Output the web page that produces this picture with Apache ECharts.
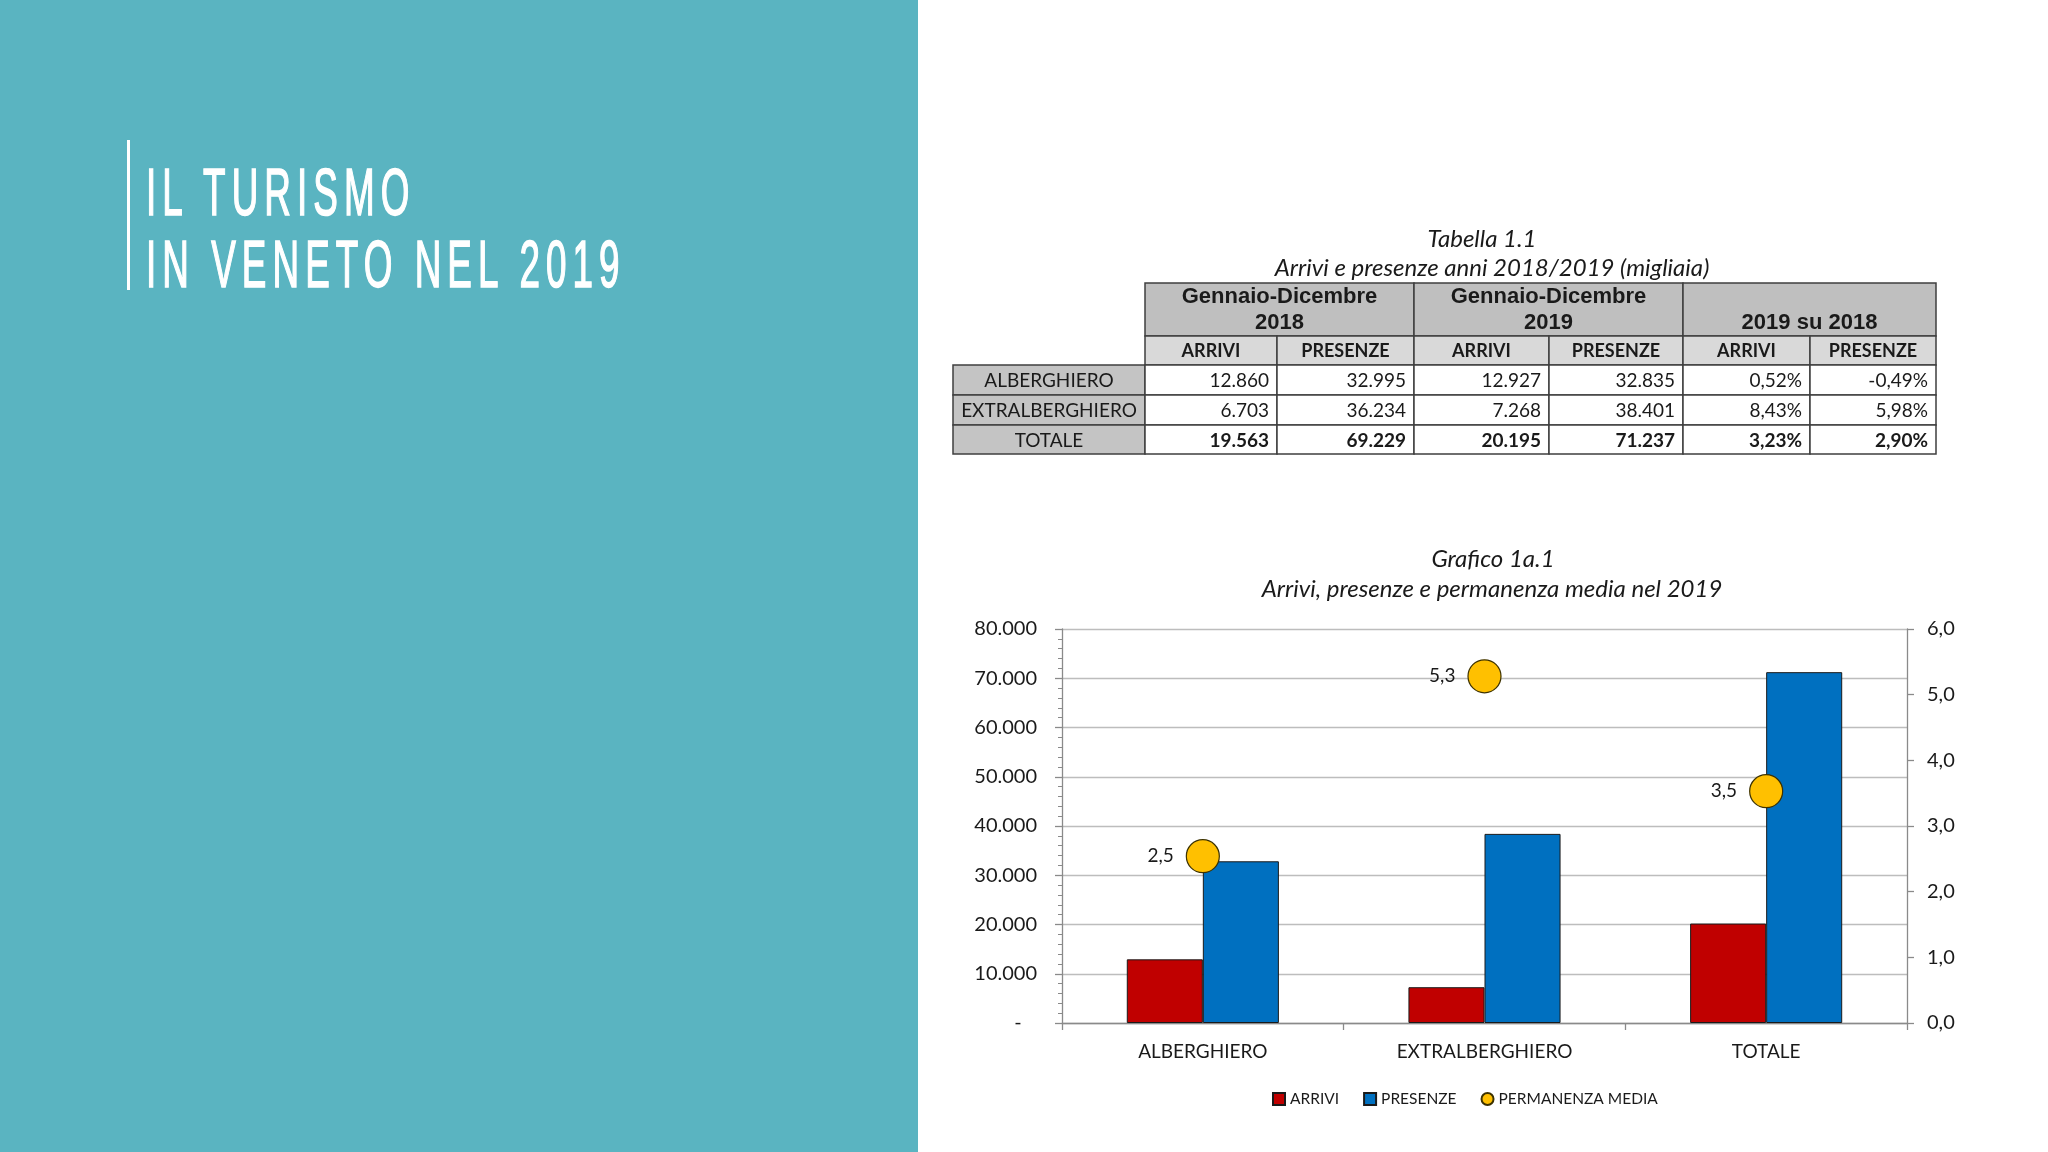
<!DOCTYPE html>
<html><head><meta charset="utf-8">
<script src="https://cdn.jsdelivr.net/npm/echarts@6/dist/echarts.min.js"></script>
<style>
html,body{margin:0;padding:0;background:#fff;}
#chart{position:absolute;left:0;top:0;width:2048px;height:1152px;}
#vbar{position:absolute;left:127px;top:140px;width:3px;height:150px;background:#fff;}
#title{position:absolute;left:146px;top:156px;color:#fff;font-family:'Liberation Sans',Arial,sans-serif;font-size:67px;line-height:72px;letter-spacing:11px;transform:scaleX(0.55);transform-origin:0 0;white-space:nowrap;-webkit-text-stroke:1.6px #fff;}
</style></head>
<body>
<div id="chart"></div>
<div id="vbar"></div>
<div id="title"></div>
<script>
// ---------- DATA ----------
const slideTitle = ['IL TURISMO', 'IN VENETO NEL 2019'];
const tableTitle = ['Tabella 1.1', 'Arrivi e presenze anni 2018/2019 (migliaia)'];
const chartTitle = ['Grafico 1a.1', 'Arrivi, presenze e permanenza media nel 2019'];
const categories = ['ALBERGHIERO', 'EXTRALBERGHIERO', 'TOTALE'];
const headerGroups = [['Gennaio-Dicembre', '2018'], ['Gennaio-Dicembre', '2019'], ['2019 su 2018']];
const subHeaders = ['ARRIVI', 'PRESENZE'];
const arrivi2018 = [12860, 6703, 19563];
const presenze2018 = [32995, 36234, 69229];
const arrivi2019 = [12927, 7268, 20195];
const presenze2019 = [32835, 38401, 71237];
const varArrivi = [0.52, 8.43, 3.23];
const varPresenze = [-0.49, 5.98, 2.90];
const permanenzaMedia = [2.54, 5.28, 3.53];
const legendLabels = ['ARRIVI', 'PRESENZE', 'PERMANENZA MEDIA'];

// ---------- helpers ----------
const fmtInt = n => String(n).replace(/\B(?=(\d{3})+(?!\d))/g, '.');
const fmtPct = v => v.toFixed(2).replace('.', ',') + '%';
const fmt1 = v => v.toFixed(1).replace('.', ',');

document.getElementById('title').innerHTML = slideTitle.join('<br>');

const FONT = 'Lato';
const TXT = '#1a1a1a';
const graphics = [];
graphics.push({type: 'rect', z: -10, shape: {x: 0, y: 0, width: 918, height: 1152}, style: {fill: '#5AB4C1'}});

// table titles
graphics.push({type: 'text', x: 1482, y: 239, style: {text: tableTitle[0], font: 'italic 24px Lato', fill: TXT, align: 'center', verticalAlign: 'middle'}});
graphics.push({type: 'text', x: 1492, y: 268, style: {text: tableTitle[1], font: 'italic 24px Lato', fill: TXT, align: 'center', verticalAlign: 'middle'}});
// chart titles
graphics.push({type: 'text', x: 1493, y: 559, style: {text: chartTitle[0], font: 'italic 24px Lato', fill: TXT, align: 'center', verticalAlign: 'middle'}});
graphics.push({type: 'text', x: 1492, y: 589, style: {text: chartTitle[1], font: 'italic 24px Lato', fill: TXT, align: 'center', verticalAlign: 'middle'}});

// table layout
const colX = [953, 1145, 1277, 1414, 1549, 1683, 1810, 1936];
const rowY = [283, 336, 365, 395, 425, 454];
const STROKE = '#3f3f3f';
function cell(x0, y0, x1, y1, fill) {
  graphics.push({type: 'rect', shape: {x: x0, y: y0, width: x1 - x0, height: y1 - y0}, style: {fill: fill, stroke: STROKE, lineWidth: 1.5}});
}
function txt(x, y, s, font, align) {
  graphics.push({type: 'text', x: x, y: y, z: 10, style: {text: s, font: font, fill: TXT, align: align || 'center', verticalAlign: 'middle'}});
}
// header groups
headerGroups.forEach((g, i) => {
  const x0 = colX[1 + 2 * i], x1 = colX[3 + 2 * i];
  cell(x0, rowY[0], x1, rowY[1], '#BFBFBF');
  const cx = (x0 + x1) / 2;
  if (g.length === 2) {
    txt(cx, 297, g[0], 'bold 22px "Liberation Sans"');
    txt(cx, 323, g[1], 'bold 22px "Liberation Sans"');
  } else {
    txt(cx, 323, g[0], 'bold 22px "Liberation Sans"');
  }
  subHeaders.forEach((s, j) => {
    const a = colX[1 + 2 * i + j], b = colX[2 + 2 * i + j];
    cell(a, rowY[1], b, rowY[2], '#D9D9D9');
    txt((a + b) / 2, (rowY[1] + rowY[2]) / 2 + 1, s, 'bold 18px Lato');
  });
});
// data rows
const columns = [arrivi2018, presenze2018, arrivi2019, presenze2019, varArrivi, varPresenze];
categories.forEach((c, r) => {
  const y0 = rowY[2 + r], y1 = rowY[3 + r], cy = (y0 + y1) / 2 + 1;
  cell(colX[0], y0, colX[1], y1, '#C4C4C4');
  txt((colX[0] + colX[1]) / 2, cy, c, '19px Lato');
  const bold = r === categories.length - 1;
  columns.forEach((col, k) => {
    cell(colX[1 + k], y0, colX[2 + k], y1, '#FFFFFF');
    const s = k < 4 ? fmtInt(col[r]) : fmtPct(col[r]);
    txt(colX[2 + k] - 8, cy, s, (bold ? 'bold ' : '') + '19px Lato', 'right');
  });
});

const chart = echarts.init(document.getElementById('chart'));
const AX = '#8a8a8a';
chart.setOption({
  animation: false,
  backgroundColor: '#ffffff',
  graphic: graphics,
  grid: {left: 1062, top: 629, width: 845, height: 394},
  legend: {
    left: 1267, top: 1086, itemWidth: 12, itemHeight: 12, itemGap: 24,
    textStyle: {fontFamily: FONT, fontSize: 15.5, color: TXT},
    data: [{name: legendLabels[0], icon: 'rect'}, {name: legendLabels[1], icon: 'rect'}, {name: legendLabels[2], icon: 'circle'}]
  },
  xAxis: {
    type: 'category', data: categories,
    axisLine: {lineStyle: {color: AX, width: 1.3}},
    axisTick: {show: true, length: 7, lineStyle: {color: AX, width: 1.3}},
    axisLabel: {margin: 19, fontSize: 19, fontFamily: FONT, color: TXT}
  },
  yAxis: [
    {
      type: 'value', min: 0, max: 80000, interval: 10000, position: 'left',
      axisLine: {show: true, lineStyle: {color: AX, width: 1.3}},
      axisTick: {show: true, length: 7, lineStyle: {color: AX, width: 1.3}},
      minorTick: {show: true, splitNumber: 5, length: 4, lineStyle: {color: AX}},
      splitLine: {show: true, lineStyle: {color: '#BDBDBD', width: 1.3}},
      axisLabel: {margin: 25, fontSize: 20, fontFamily: FONT, color: TXT, formatter: v => v === 0 ? '-   ' : fmtInt(v)}
    },
    {
      type: 'value', min: 0, max: 6, interval: 1, position: 'right',
      axisLine: {show: true, lineStyle: {color: AX, width: 1.3}},
      axisTick: {show: true, length: 7, lineStyle: {color: AX, width: 1.3}},
      splitLine: {show: false},
      axisLabel: {margin: 20, fontSize: 20, fontFamily: FONT, color: TXT, formatter: v => fmt1(v)}
    }
  ],
  series: [
    {name: legendLabels[0], type: 'bar', data: arrivi2019, barGap: '0%', barCategoryGap: '46%',
     itemStyle: {color: '#C00000', borderColor: '#1a1a1a', borderWidth: 1}},
    {name: legendLabels[1], type: 'bar', data: presenze2019,
     itemStyle: {color: '#0070C0', borderColor: '#1a1a1a', borderWidth: 1}},
    {name: legendLabels[2], type: 'scatter', yAxisIndex: 1, data: permanenzaMedia, symbolSize: 33, z: 5,
     itemStyle: {color: '#FFC000', opacity: 1, borderColor: '#3d3200', borderWidth: 1.2},
     label: {show: true, position: 'left', distance: 12, fontSize: 19, fontFamily: FONT, color: TXT, formatter: p => fmt1(p.value)}}
  ]
});
</script>
</body></html>
